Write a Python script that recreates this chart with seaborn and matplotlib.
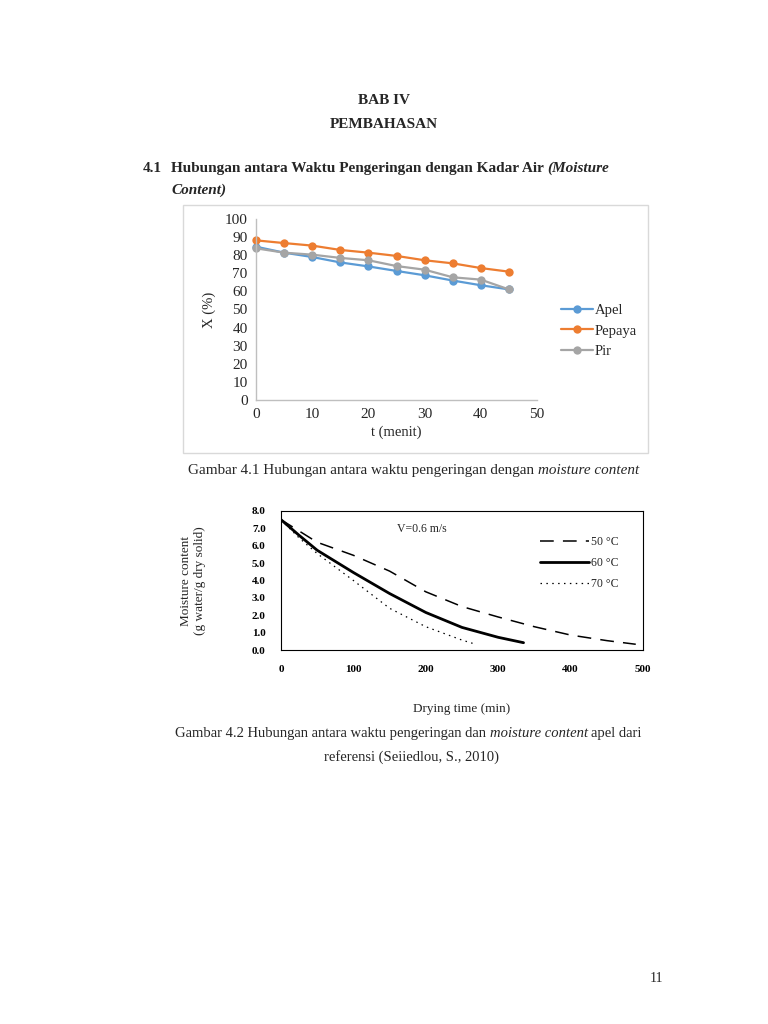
import numpy as np
import pandas as pd
import matplotlib
matplotlib.use('Agg')
import matplotlib.pyplot as plt
from matplotlib.patches import Rectangle
import seaborn as sns

# chart 1 data: moisture content X (%) vs drying time
t_menit = [0, 5, 10, 15, 20, 25, 30, 35, 40, 45]
apel = [84.7, 81.4, 79.0, 76.0, 73.8, 71.3, 68.9, 66.0, 63.4, 61.1]
pepaya = [88.2, 86.7, 85.3, 82.9, 81.4, 79.6, 77.2, 75.5, 72.9, 70.9]
pir = [83.8, 81.4, 80.3, 78.5, 77.2, 74.0, 72.0, 67.8, 66.5, 61.1]

# chart 2 data (reference, Seiiedlou 2010): moisture content vs drying time
t50 = [0, 25, 50, 100, 150, 200, 250, 300, 350, 400, 450, 490]
mc50 = [7.5, 6.85, 6.2, 5.45, 4.54, 3.35, 2.5, 1.9, 1.34, 0.86, 0.54, 0.33]
t60 = [0, 25, 50, 100, 150, 200, 250, 300, 335]
mc60 = [7.5, 6.6, 5.74, 4.46, 3.25, 2.16, 1.3, 0.73, 0.42]
t70 = [0, 25, 50, 100, 150, 200, 250, 265]
mc70 = [7.5, 6.45, 5.55, 4.0, 2.4, 1.34, 0.57, 0.38]

sns.set_theme(style='white')
plt.rcParams['font.family'] = ['Liberation Serif', 'DejaVu Serif']

W, H = 768, 1024
fig = plt.figure(figsize=(7.68, 10.24), dpi=100)
fig.patch.set_facecolor('white')
renderer = fig.canvas.get_renderer()


def fx(px):
    return px / W


def fy(py):
    return 1 - py / H


def line_of_text(x, y, parts, size=11, weight='normal', ha='left', gap=3.5):
    # parts: list of (text, style); drawn one after another on a common baseline
    widths = []
    for s, st in parts:
        t = fig.text(0, 0, s, fontsize=size, weight=weight, style=st)
        widths.append(t.get_window_extent(renderer).width)
        t.remove()
    total = sum(widths) + gap * (len(parts) - 1)
    if ha == 'center':
        x = x - total / 2
    elif ha == 'right':
        x = x - total
    for (s, st), w in zip(parts, widths):
        fig.text(fx(x), fy(y), s, fontsize=size, weight=weight, style=st, ha='left', va='baseline')
        x += w + gap


# page text
line_of_text(384, 104, [('BAB IV', 'normal')], weight='bold', ha='center')
line_of_text(384, 128, [('PEMBAHASAN', 'normal')], weight='bold', ha='center')
line_of_text(143, 172, [('4.1', 'normal')], weight='bold')
line_of_text(171, 172, [('Hubungan antara Waktu Pengeringan dengan Kadar Air', 'normal'),
                        ('(Moisture', 'italic')], weight='bold')
line_of_text(171, 194, [('Content)', 'italic')], weight='bold')

# chart 1 frame
fig.patches.append(Rectangle((fx(183), fy(453)), fx(648) - fx(183), fy(205) - fy(453),
                             transform=fig.transFigure, fill=False, edgecolor='#d9d9d9', lw=1))

df1 = pd.DataFrame({
    't': t_menit * 3,
    'X': apel + pepaya + pir,
    'buah': ['Apel'] * 10 + ['Pepaya'] * 10 + ['Pir'] * 10,
})
ax1 = fig.add_axes([fx(256), fy(400), fx(537) - fx(256), fy(219) - fy(400)])
sns.lineplot(data=df1, x='t', y='X', hue='buah', marker='o', markersize=6, markeredgewidth=0,
             linewidth=1.6, palette=['#5B9BD5', '#ED7D31', '#A5A5A5'], ax=ax1)
for ln in ax1.lines:
    ln.set_clip_on(False)
ax1.set_xlim(0, 50)
ax1.set_ylim(0, 100)
ax1.set_xticks(range(0, 51, 10))
ax1.set_yticks(range(0, 101, 10))
ax1.tick_params(labelsize=11, length=0, pad=6)
for s in ['top', 'right']:
    ax1.spines[s].set_visible(False)
for s in ['left', 'bottom']:
    ax1.spines[s].set_color('#bfbfbf')
    ax1.spines[s].set_linewidth(1)
ax1.set_xlabel('t (menit)', fontsize=10.5, labelpad=3)
ax1.set_ylabel('X (%)', fontsize=10.5, labelpad=6)
ax1.legend(title=None, frameon=False, fontsize=10.5, loc='center left',
           bbox_to_anchor=(fx(555), fy(331)), bbox_transform=fig.transFigure,
           handlelength=2.2, handletextpad=0.1, labelspacing=0.5, borderaxespad=0)

line_of_text(188, 474, [('Gambar 4.1 Hubungan antara waktu pengeringan dengan', 'normal'),
                        ('moisture content', 'italic')], size=10.9)

# chart 2
ax2 = fig.add_axes([fx(281), fy(650), fx(643) - fx(281), fy(511) - fy(650)])
df50 = pd.DataFrame({'t': t50, 'mc': mc50})
df60 = pd.DataFrame({'t': t60, 'mc': mc60})
df70 = pd.DataFrame({'t': t70, 'mc': mc70})
sns.lineplot(data=df50, x='t', y='mc', color='black', lw=1.1, ax=ax2, label='50 \u00b0C')
sns.lineplot(data=df60, x='t', y='mc', color='black', lw=2.0, ax=ax2, label='60 \u00b0C')
sns.lineplot(data=df70, x='t', y='mc', color='black', lw=0.9, ax=ax2, label='70 \u00b0C')
ax2.lines[0].set_dashes([9, 6])
ax2.lines[2].set_dashes([1.2, 3.5])
ax2.set_xlim(0, 500)
ax2.set_ylim(0, 8)
ax2.set_xticks(range(0, 501, 100))
ax2.set_yticks(np.arange(0, 8.1, 1.0))
ax2.set_yticklabels([f'{v:.1f}' for v in np.arange(0, 8.1, 1.0)])
ax2.tick_params(labelsize=8, direction='out', length=3, width=0.8, pad=8, colors='black')
for lab in ax2.get_xticklabels() + ax2.get_yticklabels():
    lab.set_fontweight('bold')
for s in ax2.spines.values():
    s.set_color('black')
    s.set_linewidth(0.8)
ax2.set_xlabel('Drying time (min)', fontsize=9.5, labelpad=21)
ax2.set_ylabel('Moisture content\n(g water/g dry solid)', fontsize=9.5, labelpad=33)
ax2.text(0.39, 0.87, 'V=0.6 m/s', transform=ax2.transAxes, fontsize=8.5, ha='center', va='center')
ax2.legend(frameon=False, fontsize=8.5, loc='upper left', bbox_to_anchor=(0.715, 0.82),
           handlelength=4.2, handletextpad=0.15, labelspacing=0.75, borderaxespad=0,
           borderpad=0)

line_of_text(175, 737, [('Gambar 4.2 Hubungan antara waktu pengeringan dan', 'normal'),
                        ('moisture content', 'italic'), ('apel dari', 'normal')], size=10.5)
line_of_text(412, 761, [('referensi (Seiiedlou, S., 2010)', 'normal')], size=10.5, ha='center')

line_of_text(656, 982, [('11', 'normal')], size=10, ha='center')

fig.savefig('out.png', dpi=100)
